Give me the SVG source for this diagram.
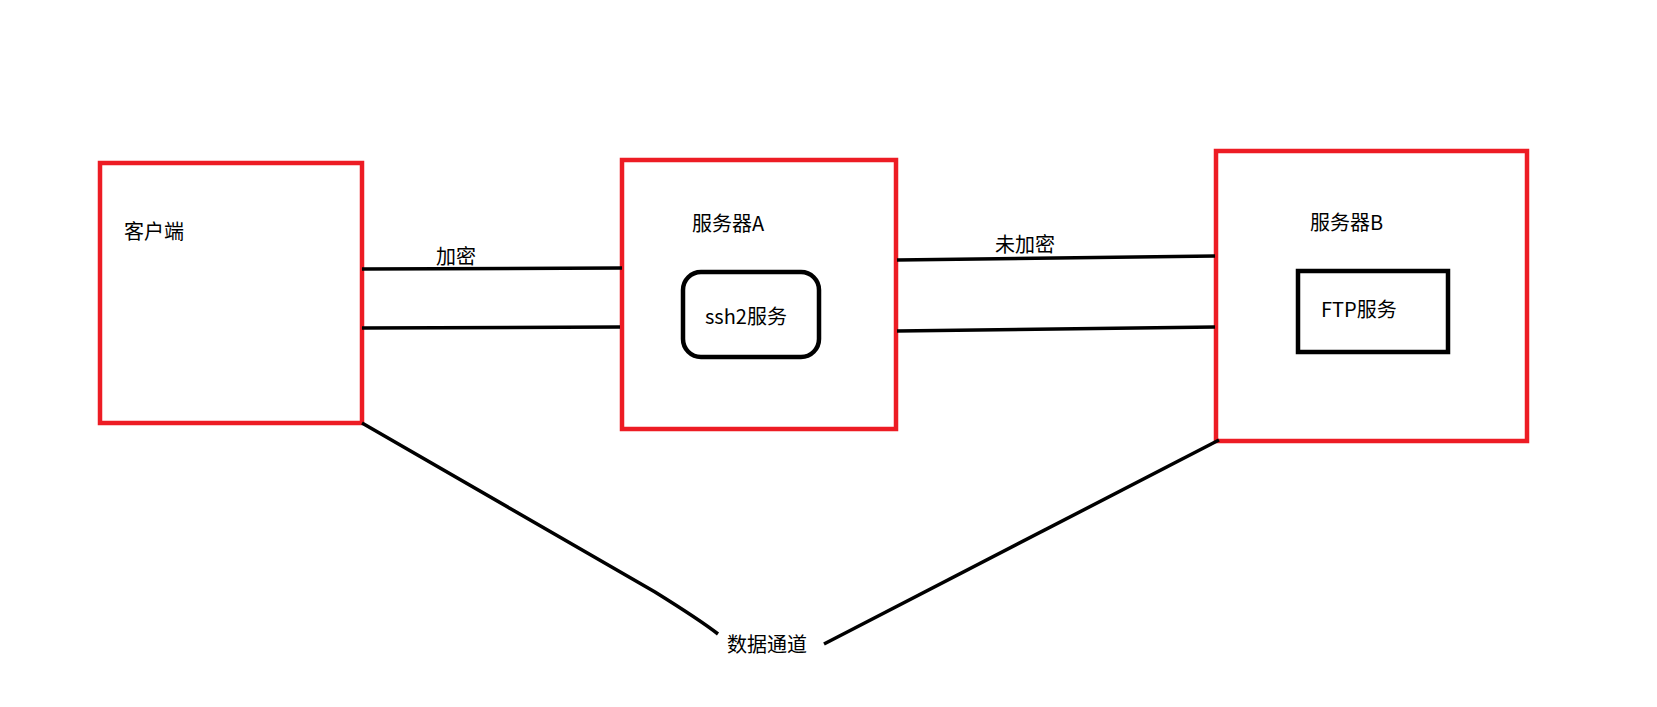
<svg xmlns="http://www.w3.org/2000/svg" width="1657" height="707" viewBox="0 0 1657 707">
<style>
.box{fill:none;stroke:#ed1c24;stroke-width:4.5}
.in{fill:none;stroke:#000;stroke-width:4.5}
.ln{fill:none;stroke:#000;stroke-width:3.5}
text{font-family:"Noto Sans CJK SC","Noto Sans",sans-serif;font-size:20px;fill:#000}
</style>
<rect width="1657" height="707" fill="#fff"/>
<g id="client"><rect class="box" x="100" y="163" width="262" height="260"/><text x="124" y="239">客户端</text></g>
<g id="serverA"><rect class="box" x="622" y="160" width="274" height="269"/><text x="692" y="231">服务器A</text></g>
<g id="ssh2"><rect class="in" x="683" y="272" width="136" height="85" rx="18"/><text x="705" y="324">ssh2服务</text></g>
<g id="serverB"><rect class="box" x="1216" y="151" width="311" height="290"/><text x="1310" y="230">服务器B</text></g>
<g id="ftp"><rect class="in" x="1298" y="271" width="150" height="81"/><text x="1321" y="317">FTP服务</text></g>
<g id="connectors">
<line class="ln" x1="362" y1="269" x2="622" y2="268"/>
<line class="ln" x1="362" y1="328" x2="620" y2="327"/>
<line class="ln" x1="897" y1="260" x2="1215" y2="256"/>
<line class="ln" x1="897" y1="331" x2="1215" y2="327"/>
<path class="ln" d="M362,423 L655,592 Q700,620 718,634"/>
<line class="ln" x1="824" y1="644" x2="1219" y2="440"/>
<text x="436" y="264">加密</text>
<text x="995" y="252">未加密</text>
<text x="727" y="652">数据通道</text>
</g>
</svg>
